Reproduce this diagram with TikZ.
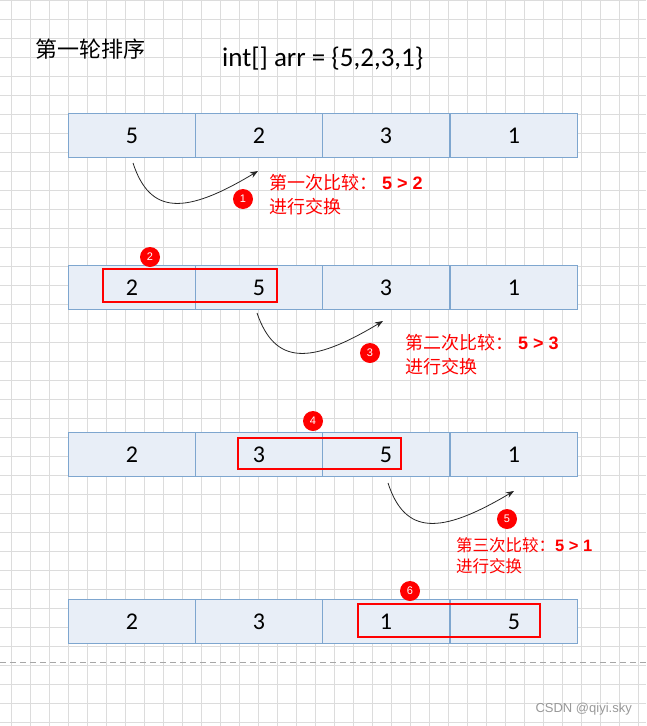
\documentclass[tikz,border=0pt]{standalone}
\usepackage{fontspec}
\setmainfont{Carlito}
\newfontfamily\cjk{Noto Sans CJK SC}
\newfontfamily\arialf{Liberation Sans}
\usetikzlibrary{arrows.meta}
\definecolor{gridc}{HTML}{DCDCDC}
\definecolor{cellf}{HTML}{E8EEF7}
\definecolor{celld}{HTML}{7EA6CF}
\definecolor{redc}{HTML}{FF0000}
\tikzset{
  x=1pt,y=-1pt,
  cell/.style={draw=celld,fill=cellf,line width=0.8pt,minimum width=127pt,minimum height=44pt,inner sep=0,anchor=north west,font=\fontsize{24}{24}\selectfont},
  hl/.style={draw=redc,line width=1.6pt},
  badge/.style={circle,fill=redc,text=white,inner sep=0,minimum size=20pt,font=\arialf\fontsize{11}{11}\selectfont},
  note/.style={text=redc,anchor=north west,align=left,inner sep=0,font=\cjk\fontsize{18}{24}\selectfont},
  swap/.style={-{Stealth[length=8pt,width=6pt]},line width=0.8pt,black!85}
}
\begin{document}
\begin{tikzpicture}
\useasboundingbox (0,0) rectangle (646,726);
\fill[white] (0,0) rectangle (646,726);
\foreach \i in {0,...,33} {\draw[gridc,line width=0.8pt] (11+19*\i,0) -- (11+19*\i,726);}
\foreach \i in {0,...,38} {\draw[gridc,line width=0.8pt] (0,19*\i) -- (646,19*\i);}
\draw[gray!70,line width=0.8pt,dash pattern=on 6pt off 4pt] (0,662) -- (646,662);
\node[anchor=west,inner sep=0,font=\cjk\fontsize{22}{22}\selectfont] (title) at (35,49) {第一轮排序};
\node[anchor=west,inner sep=0,font=\fontsize{27}{27}\selectfont] (code) at (222,59) {int[] arr = \{5,2,3,1\}};
% rows
\foreach \r/\y/\a/\b/\c/\d in {1/113/5/2/3/1, 2/265/2/5/3/1, 3/432/2/3/5/1, 4/599/2/3/1/5}{
  \node[cell] (r\r a) at (68,\y) {\a};
  \node[cell] (r\r b) at (195,\y) {\b};
  \node[cell] (r\r c) at (322,\y) {\c};
  \node[cell] (r\r d) at (450,\y) {\d};
}
\draw[hl] (103,269) rectangle (277,302);
\draw[hl] (238,438) rectangle (401,469);
\draw[hl] (358,604) rectangle (540,637);
% arrows
\coordinate (s1) at (133,163); \coordinate (e1) at (258,171);
\draw[swap] (s1) .. controls (150,215) and (185,215) .. (e1);
\coordinate (s2) at (257,313); \coordinate (e2) at (383,321);
\draw[swap] (s2) .. controls (275,365) and (310,365) .. (e2);
\coordinate (s3) at (388,483); \coordinate (e3) at (514,491);
\draw[swap] (s3) .. controls (405,535) and (440,535) .. (e3);
% badges
\node[badge] (b1) at (243,199) {1};
\node[badge] (b2) at (150,257) {2};
\node[badge] (b3) at (370,353) {3};
\node[badge] (b4) at (313,421) {4};
\node[badge] (b5) at (507,519) {5};
\node[badge] (b6) at (410,591) {6};
% notes
\node[note] (n1) at (269,174) {第一次比较：{\arialf\bfseries\ 5 > 2}\\进行交换};
\node[note] (n2) at (405,334) {第二次比较：{\arialf\bfseries\ 5 > 3}\\进行交换};
\node[note,font=\cjk\fontsize{16.5}{21}\selectfont] (n3) at (456,537) {第三次比较：{\arialf\bfseries 5 > 1}\\进行交换};
\node[anchor=east,inner sep=0,text=gray!80,font=\arialf\fontsize{13}{13}\selectfont] (wm) at (632,709) {CSDN @qiyi.sky};
\end{tikzpicture}
\end{document}
